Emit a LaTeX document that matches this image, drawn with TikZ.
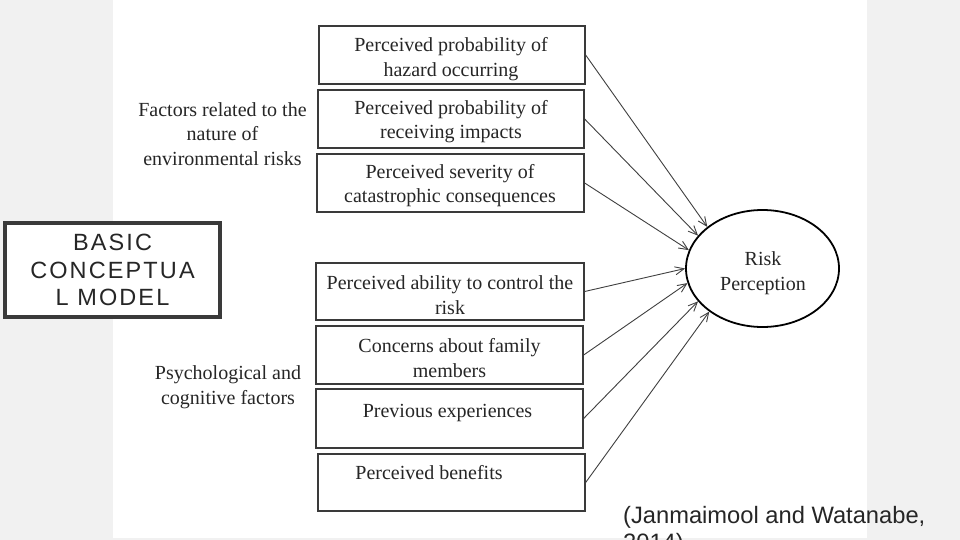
\documentclass[tikz,border=0pt]{standalone}
\usepackage{fontspec}
\setmainfont{Liberation Serif}
\newfontfamily\arialfont{Liberation Sans}
\usetikzlibrary{arrows.meta,shapes.geometric}
\definecolor{panelgray}{HTML}{F1F1F1}
\definecolor{ink}{HTML}{262626}
\definecolor{boxline}{HTML}{3A3A3A}
\definecolor{arrowline}{HTML}{404040}
\tikzset{
  factorbox/.style={draw=boxline, line width=1.3pt, rectangle, inner sep=0pt, fill=white},
  boxtext/.style={text=ink, align=center, inner sep=0pt, font=\fontsize{20}{24.5}\selectfont},
  grouplabel/.style={text=ink, align=center, inner sep=0pt, font=\fontsize{20}{24.5}\selectfont},
  influence/.style={draw=arrowline, line width=0.9pt, -{Straight Barb[length=9pt,width=8pt]}},
  titlebox/.style={draw=boxline, line width=3.5pt, fill=white, rectangle, inner sep=0pt,
    minimum width=215pt, minimum height=94pt},
  titletext/.style={text=ink, align=center, inner sep=0pt,
    font=\arialfont\addfontfeature{LetterSpace=9}\fontsize{23.5}{27.5}\selectfont},
  citetext/.style={text=ink, inner sep=0pt, anchor=base west, font=\arialfont\fontsize{23.7}{27}\selectfont}
}
\begin{document}
\begin{tikzpicture}[x=1pt,y=-1pt]
\useasboundingbox (0,0) rectangle (960,540);
\clip (0,0) rectangle (960,540);
\fill[panelgray] (0,0) rectangle (960,540);
\fill[white] (113,0) rectangle (867,538);

% factor boxes
\node[factorbox, minimum width=266pt, minimum height=58pt] (b1) at (452,55) {};
\node[factorbox, minimum width=266pt, minimum height=58pt] (b2) at (451,119) {};
\node[factorbox, minimum width=267pt, minimum height=58pt] (b3) at (450.5,183) {};
\node[factorbox, minimum width=268pt, minimum height=57pt] (b4) at (450,291.5) {};
\node[factorbox, minimum width=267pt, minimum height=58pt] (b5) at (449.5,355) {};
\node[factorbox, minimum width=267pt, minimum height=59pt] (b6) at (449.5,418.5) {};
\node[factorbox, minimum width=267pt, minimum height=57pt] (b7) at (451.5,482.5) {};

% box texts
\node[boxtext] (t1) at (451,59) {Perceived probability of\\hazard occurring};
\node[boxtext] (t2) at (451,121.5) {Perceived probability of\\receiving impacts};
\node[boxtext] (t3) at (450,185.5) {Perceived severity of\\catastrophic consequences};
\node[boxtext] (t4) at (450,295) {Perceived ability to control the\\risk};
\node[boxtext] (t5) at (449.5,358) {Concerns about family\\members};
\node[boxtext] (t6) at (447.5,413) {Previous experiences};
\node[boxtext] (t7) at (429,473) {Perceived benefits};

% group labels
\node[grouplabel] (g1) at (222.5,134) {Factors related to the\\nature of\\environmental risks};
\node[grouplabel] (g2) at (228,387) {Psychological and\\cognitive factors};

% risk perception
\node[ellipse, draw=black, line width=1.8pt, inner sep=0pt, minimum width=153pt, minimum height=117pt] (rp) at (762.5,268.5) {};
\node[boxtext] (rpt) at (763,273) {Risk\\Perception};

% connectors
\draw[influence] (b1.east) -- (rp.143);
\draw[influence] (b2.east) -- (rp.153);
\draw[influence] (b3.east) -- (rp.166);
\draw[influence] (b4.east) -- (rp.180);
\draw[influence] (b5.east) -- (rp.191);
\draw[influence] (b6.east) -- (rp.207);
\draw[influence] (b7.east) -- (rp.219);

% title box
\node[titlebox] (tb) at (112.5,270) {};
\node[titletext] (tt) at (112.5,270) {BASIC\\CONCEPTUA\\L MODEL};

% citation
\node[citetext] (c1) at (623,523) {(Janmaimool and Watanabe,};
\node[citetext] (c2) at (623,550) {2014)};
\end{tikzpicture}
\end{document}
